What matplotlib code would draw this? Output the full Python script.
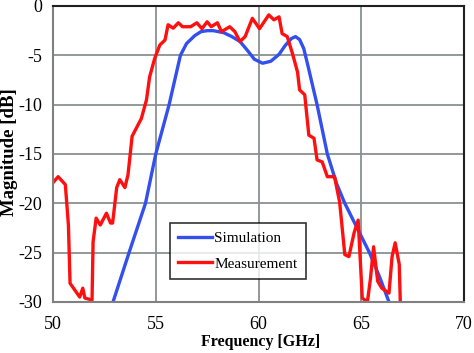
import matplotlib
matplotlib.use("Agg")
import matplotlib.pyplot as plt

# Simulation (blue)
sim_f = [52.92, 53.7, 54.5, 55.0, 55.65, 56.2, 56.5, 56.9, 57.2, 57.5, 57.8, 58.3,
         58.7, 59.1, 59.5, 59.8, 60.2, 60.6, 61.0, 61.3, 61.6, 61.8, 62.0, 62.2,
         62.4, 62.85, 63.35, 63.8, 64.2, 64.8, 65.4, 65.9, 66.35]
sim_db = [-30, -25, -20, -15, -10, -5, -3.8, -3.0, -2.6, -2.5, -2.5, -2.7,
          -3.1, -3.6, -4.6, -5.4, -5.8, -5.6, -4.9, -4.0, -3.3, -3.1, -3.4, -4.3,
          -6.0, -10, -15, -18, -20, -22.5, -25, -27.5, -30]

# Measurement (red)
meas_f = [50.0, 50.25, 50.6, 50.75, 50.83, 51.3, 51.45, 51.55, 51.9, 51.95, 52.1, 52.3,
          52.6, 52.8, 52.9, 53.1, 53.25, 53.5, 53.65, 53.85, 54.1, 54.3, 54.55, 54.7,
          54.95, 55.2, 55.45, 55.6, 55.85, 56.1, 56.3, 56.7, 57.0, 57.25, 57.5, 57.7,
          58.0, 58.2, 58.6, 58.85, 59.1, 59.35, 59.7, 60.05, 60.5, 60.75, 61.0, 61.15,
          61.4, 61.65, 61.9, 62.0, 62.25, 62.45, 62.7, 62.85, 63.1, 63.35, 63.7, 63.95,
          64.2, 64.4, 64.65, 64.85, 65.05, 65.3, 65.45, 65.6, 65.8, 66.0, 66.35, 66.5,
          66.65, 66.85, 66.9]
meas_db = [-17.9, -17.3, -18.1, -22.2, -28.1, -29.5, -28.6, -29.6, -29.8, -23.9, -21.5, -22.2,
           -21.0, -22.0, -22.0, -18.4, -17.6, -18.4, -17.1, -13.2, -12.2, -11.4, -9.5, -7.2,
           -5.3, -3.95, -3.45, -1.9, -2.25, -1.7, -2.1, -2.1, -1.7, -2.3, -1.6, -2.1,
           -1.7, -2.6, -2.1, -2.6, -3.6, -3.1, -1.25, -2.3, -0.9, -1.4, -1.1, -2.8,
           -3.1, -4.8, -6.7, -8.5, -9.0, -13.1, -13.4, -15.6, -15.8, -17.3, -17.3, -19.9,
           -25.2, -25.4, -23.0, -21.7, -29.6, -30.0, -27.6, -24.4, -27.9, -28.6, -29.1, -25.4,
           -24.0, -26.2, -30.0]

x_ticks = [50, 55, 60, 65, 70]
y_ticks = [0, -5, -10, -15, -20, -25, -30]

plt.rcParams["font.family"] = ["Liberation Serif", "DejaVu Serif"]

fig = plt.figure(figsize=(4.74, 3.53), dpi=100)
ax = fig.add_axes([53 / 474, 1 - 302 / 353, 411 / 474, 296 / 353])

ax.plot(sim_f, sim_db, color="#3350ee", lw=2.4, label="Simulation")
ax.plot(meas_f, meas_db, color="#ff1010", lw=2.4, label="Measurement")

ax.set_xlim(50, 70)
ax.set_ylim(-30, 0)
ax.set_xticks(x_ticks)
ax.set_yticks(y_ticks)
ax.set_yticklabels([str(v) for v in y_ticks])
ax.tick_params(length=0, labelsize=13)
ax.tick_params(axis="x", pad=10)
ax.tick_params(axis="y", pad=8)
ax.grid(True, color="#8a9090", lw=1.3)
ax.set_axisbelow(True)

for side in ["left", "bottom"]:
    ax.spines[side].set_color("#808080")
    ax.spines[side].set_linewidth(1.5)
for side in ["top", "right"]:
    ax.spines[side].set_color("#202020")
    ax.spines[side].set_linewidth(1.5)

ax.set_xlabel("Frequency [GHz]", fontsize=11.5, fontweight="bold", va="center")
ax.xaxis.set_label_coords((261 - 53) / 411, (302 - 342) / 296)
ax.set_ylabel("Magnitude [dB]", fontsize=13.5, fontweight="bold", va="center")
ax.yaxis.set_label_coords((9.5 - 53) / 411, 0.505)

leg = ax.legend(loc="lower left", bbox_to_anchor=((170 - 53) / 411, (302 - 279) / 296),
                fontsize=11, frameon=True, fancybox=False, handlelength=2.2,
                borderpad=0.55, labelspacing=0.75, handletextpad=0.15, borderaxespad=0)
leg.get_frame().set_edgecolor("black")
leg.get_frame().set_linewidth(1.2)

fig.savefig("out.png", dpi=100)
